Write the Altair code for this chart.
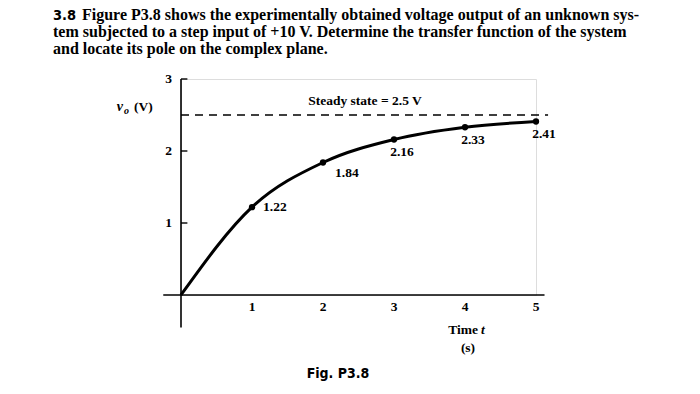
import altair as alt
import pandas as pd

# ---- data ----
t_vals = [0, 1, 2, 3, 4, 5]
v_vals = [0, 1.22, 1.84, 2.16, 2.33, 2.41]
x_ticks = [1, 2, 3, 4, 5]
y_ticks = [1, 2, 3]
steady_state = 2.5

paragraph = [
    "Figure P3.8 shows the experimentally obtained voltage output of an unknown sys-",
    "tem subjected to a step input of +10 V. Determine the transfer function of the system",
    "and locate its pole on the complex plane.",
]

SERIF = "Liberation Serif, Times New Roman, serif"
NARROW = "Liberation Sans Narrow, DejaVu Sans Condensed, Roboto, sans-serif"

curve_df = pd.DataFrame({"t": t_vals, "v": v_vals})
pts_df = curve_df[curve_df["t"] > 0].copy()
pts_df["lab"] = [f"{v:.2f}" for v in pts_df["v"]]

xs = alt.Scale(domain=[0, 5])
ys = alt.Scale(domain=[0, 3])
X = lambda f="t": alt.X(f"{f}:Q", scale=xs, axis=None)
Y = lambda f="v": alt.Y(f"{f}:Q", scale=ys, axis=None)

LBL = dict(font=SERIF, fontSize=13.5, fontWeight="bold")

base = alt.Chart(curve_df)

curve = base.mark_line(color="black", strokeWidth=3, interpolate="monotone").encode(x=X(), y=Y())
points = alt.Chart(pts_df).mark_circle(color="black", opacity=1, size=40).encode(x=X(), y=Y())

lab1 = alt.Chart(pts_df).transform_filter("datum.t == 1").mark_text(
    align="left", baseline="middle", dx=11, dy=0, **LBL).encode(x=X(), y=Y(), text="lab:N")
lab2 = alt.Chart(pts_df).transform_filter("datum.t == 2").mark_text(
    align="left", baseline="middle", dx=12, dy=10, **LBL).encode(x=X(), y=Y(), text="lab:N")
lab3 = alt.Chart(pts_df).transform_filter("datum.t >= 3").mark_text(
    align="center", baseline="middle", dx=8, dy=13, **LBL).encode(x=X(), y=Y(), text="lab:N")

# steady-state dashed line
ss_df = pd.DataFrame({"x1": [0], "x2": [5.17], "y": [steady_state]})
ss = alt.Chart(ss_df).mark_rule(color="black", strokeWidth=1.6, strokeDash=[8, 6]).encode(
    x=alt.X("x1:Q", scale=xs, axis=None), x2="x2:Q", y=alt.Y("y:Q", scale=ys, axis=None))

# axes lines
yax_df = pd.DataFrame({"x": [0], "y1": [-0.45], "y2": [3]})
yax = alt.Chart(yax_df).mark_rule(color="black", strokeWidth=1.6).encode(
    x=alt.X("x:Q", scale=xs, axis=None), y=alt.Y("y1:Q", scale=ys, axis=None), y2="y2:Q")
xax_df = pd.DataFrame({"x1": [-0.25], "x2": [5.12], "y": [0]})
xax = alt.Chart(xax_df).mark_rule(color="black", strokeWidth=1.6).encode(
    x=alt.X("x1:Q", scale=xs, axis=None), x2="x2:Q", y=alt.Y("y:Q", scale=ys, axis=None))

yt_df = pd.DataFrame({"y": y_ticks, "x1": [0] * 3, "x2": [0.09] * 3, "lab": [str(v) for v in y_ticks]})
ytick = alt.Chart(yt_df).mark_rule(color="black", strokeWidth=1.4).encode(
    x=alt.X("x1:Q", scale=xs, axis=None), x2="x2:Q", y=alt.Y("y:Q", scale=ys, axis=None))
ylab = alt.Chart(yt_df).mark_text(align="right", baseline="middle", dx=-9, **LBL).encode(
    x=alt.X("x1:Q", scale=xs, axis=None), y=alt.Y("y:Q", scale=ys, axis=None), text="lab:N")

xt_df = pd.DataFrame({"x": x_ticks, "y": [0] * 5, "lab": [str(v) for v in x_ticks]})
xlab = alt.Chart(xt_df).mark_text(align="center", baseline="middle", dy=12, **LBL).encode(
    x=alt.X("x:Q", scale=xs, axis=None), y=alt.Y("y:Q", scale=ys, axis=None), text="lab:N")

def ptext(txt, x, y, **kw):
    opts = dict(LBL, align="center", baseline="middle")
    opts.update(kw)
    return alt.Chart(pd.DataFrame({"s": [txt]})).mark_text(**opts).encode(
        x=alt.value(x), y=alt.value(y), text="s:N")

annots = [
    ptext("Steady state = 2.5 V", 184, 22),
    ptext("v", -58, 28, fontStyle="italic", fontSize=14, align="right"),
    ptext("o", -57, 32, fontStyle="italic", fontSize=10, align="left"),
    ptext("(V)", -47, 28, align="left"),
    ptext("Time", 297, 251, align="right"),
    ptext("t", 300, 251, fontStyle="italic", align="left"),
    ptext("(s)", 287, 269),
    ptext("Fig. P3.8", 157, 295, font=NARROW, fontSize=14, fontWeight="bold"),
    ptext("3.8", -128, -59, font=NARROW, fontSize=14.5, fontWeight="bold", align="left", baseline="alphabetic"),
    ptext(paragraph[0], -99, -59, fontSize=16, fontWeight="bold", align="left", baseline="alphabetic"),
    ptext(paragraph[1], -128, -42, fontSize=16, fontWeight="bold", align="left", baseline="alphabetic"),
    ptext(paragraph[2], -128, -25, fontSize=16, fontWeight="bold", align="left", baseline="alphabetic"),
]

chart = alt.layer(ss, xax, yax, ytick, ylab, xlab, curve, points, lab1, lab2, lab3, *annots).properties(
    width=355, height=216,
    autosize=alt.AutoSizeParams(type="none"),
    padding={"left": 173, "top": 71, "right": 156, "bottom": 91},
).configure_view(stroke=None).configure(background="white")

chart.save("out.html", embed_options={"renderer": "svg", "actions": False})
